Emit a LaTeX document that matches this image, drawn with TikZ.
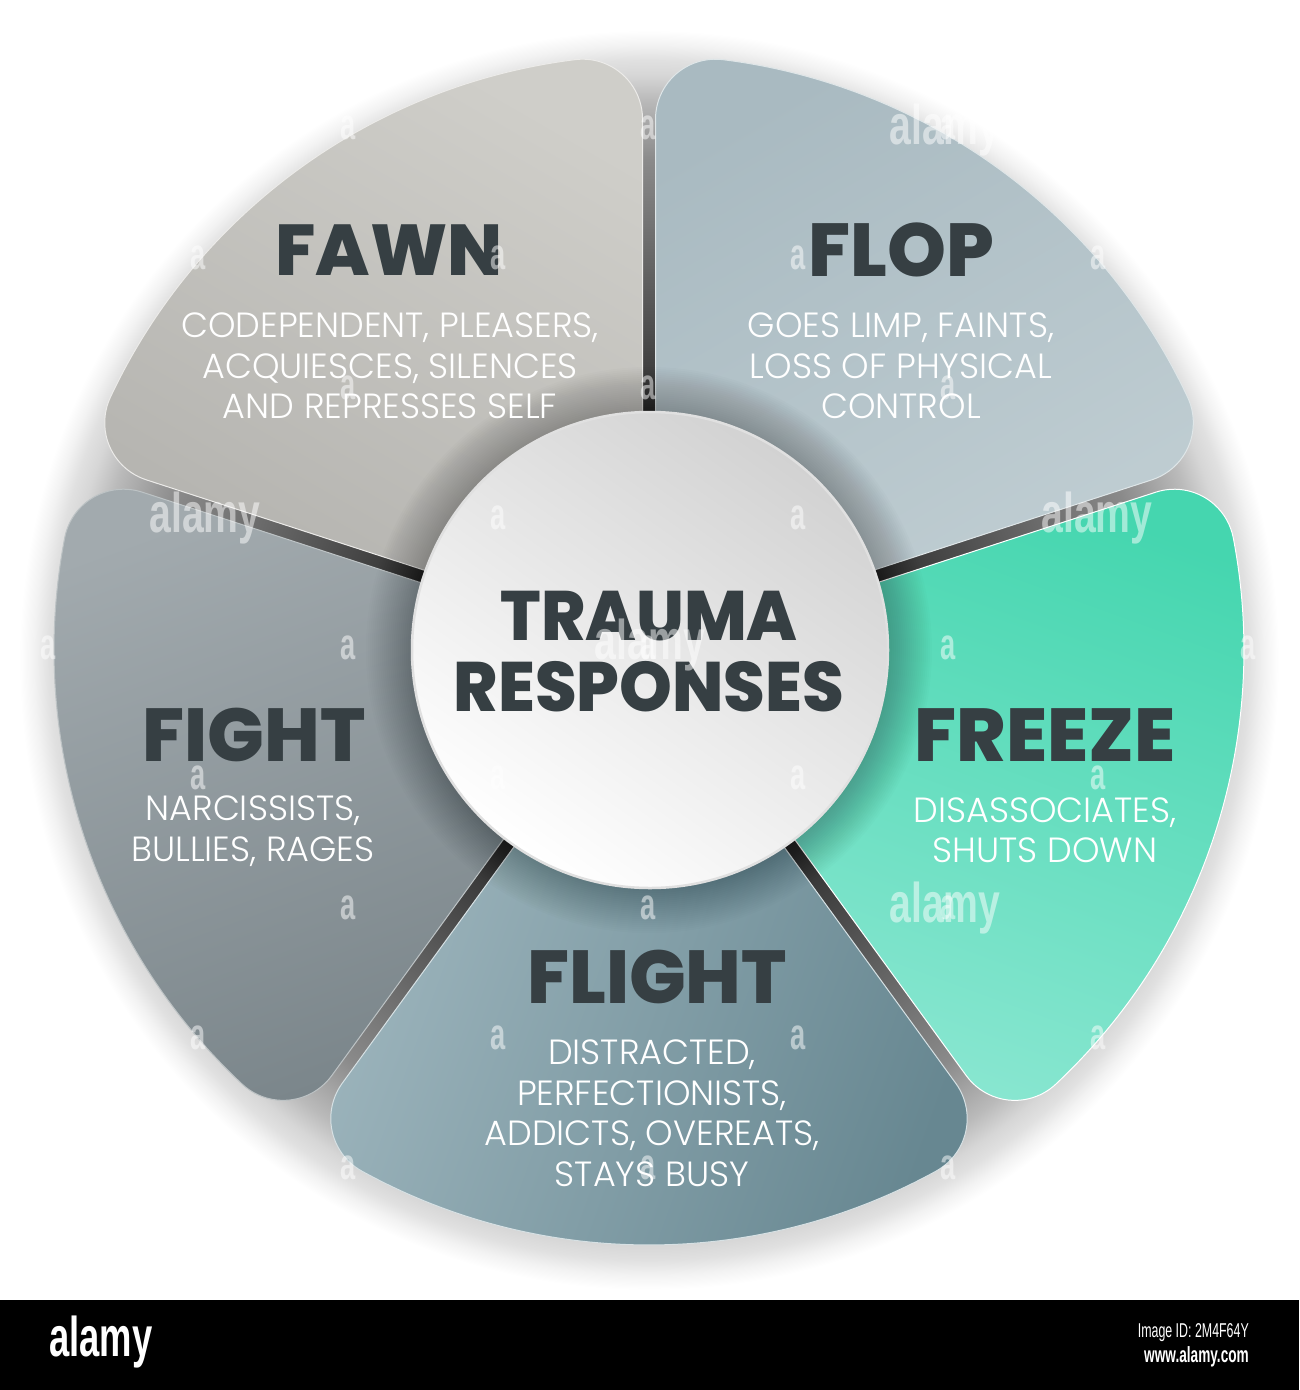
\documentclass[tikz,border=0pt]{standalone}
\usepackage{graphicx}
\usepackage{fontspec}
\setmainfont{Poppins}
\newfontfamily\headfont{Poppins ExtraBold}
\newfontfamily\titlefont{Poppins ExtraBold}[FakeStretch=.96]
\newfontfamily\bodyfont{Poppins Light}
\newfontfamily\markfont{Liberation Sans}[BoldFont={Liberation Sans Bold}]
\usetikzlibrary{positioning}
\definecolor{inkdark}{HTML}{363F43}
\definecolor{flopa}{HTML}{A9BAC1}
\definecolor{flopb}{HTML}{BFCDD2}
\definecolor{freezea}{HTML}{45D6AF}
\definecolor{freezem}{HTML}{55DBB8}
\definecolor{freezeb}{HTML}{88E6D0}
\definecolor{flighta}{HTML}{9BB3BB}
\definecolor{flightb}{HTML}{678791}
\definecolor{fighta}{HTML}{A2AAAE}
\definecolor{fightb}{HTML}{7B868B}
\definecolor{fawna}{HTML}{CFCEC9}
\definecolor{fawnb}{HTML}{B5B4B0}
\definecolor{huba}{HTML}{D2D2D2}
\pgfdeclareradialshading{backdisc}{\pgfpoint{0bp}{0bp}}{
    color(0bp)=(black!85);
    color(9.4bp)=(black!82);
    color(19.5bp)=(black!46);
    color(20.3bp)=(black!40);
    color(21.9bp)=(black!27);
    color(22.85bp)=(black!16);
    color(23.44bp)=(black!12);
    color(24.02bp)=(black!5);
    color(24.6bp)=(white);
    color(50bp)=(white)}
\newcommand{\petalpath}[1]{
    ([shift={(#1+54:6.5)}]#1-36:200) -- ([shift={(#1+54:6.5)}]#1-36:530.8)
    arc[start angle=#1-126,end angle=#1-28.86,radius=60]
    arc[start angle=#1-28.86,end angle=#1+28.86,radius=595]
    arc[start angle=#1+28.86,end angle=#1+126,radius=60]
    -- ([shift={(#1-54:6.5)}]#1+36:200) -- cycle}
\tikzset{
    heading/.style = {font=\headfont\fontsize{75}{80}\selectfont,text=inkdark,inner sep=0pt},
    bodytext/.style = {font=\bodyfont\fontsize{35}{40.5}\selectfont,text=white,align=center,inner sep=0pt},
    wmark/.style = {font=\markfont\bfseries\fontsize{44}{44}\selectfont,text=white,opacity=.5,inner sep=0pt},
    wbig/.style = {font=\markfont\bfseries\fontsize{56}{56}\selectfont,text=white,opacity=.5,inner sep=0pt},
    footer/.style = {font=\markfont,text=white,inner sep=0pt}}
\begin{document}
\begin{tikzpicture}[x=1pt,y=-1pt]
    \useasboundingbox (0,0) rectangle (1299,1390);
    \fill[white] (0,0) rectangle (1299,1390);
    \coordinate (hub) at (649,650);
    % backing disc, shows through the gaps
    \shade[shading=backdisc] (649,660) circle[radius=640];
    \begin{scope}[shift={(649,650)}]
        \path[draw=white!50!flopb,line width=1pt,top color=flopa,bottom color=flopb,shading angle=30] \petalpath{-54};
        \path[draw=white,line width=1pt,top color=freezea,middle color=freezem,bottom color=freezeb,shading angle=-20] \petalpath{18};
        \path[draw=white!60!flighta,line width=1pt,top color=flighta,bottom color=flightb,shading angle=70] \petalpath{90};
        \path[draw=white!50!fightb,line width=1pt,top color=fighta,bottom color=fightb,shading angle=20] \petalpath{162};
        \path[draw=white!60!fawna,line width=1pt,top color=fawna,bottom color=fawnb,shading angle=-30] \petalpath{234};
        % soft shadow of the hub
        \foreach \r in {241,243,...,283} \fill[black,opacity=.011] (0,0) circle[radius=\r];
    \end{scope}
    \path[draw=white!88!black,line width=2.5pt,top color=huba,bottom color=white,shading angle=-35] (650,650) circle[radius=238];
    % labels
    \node[font=\titlefont\fontsize{70}{71}\selectfont,text=inkdark,align=center,inner sep=0pt] (title) at (649,652) {TRAUMA\\RESPONSES};
    \node[heading,font=\headfont\fontsize{72}{80}\selectfont] (fawn) at (389,250) {FAWN};
    \node[bodytext] (fawntext) at (390,366) {CODEPENDENT, PLEASERS,\\ACQUIESCES, SILENCES\\AND REPRESSES SELF};
    \node[heading] (flop) at (901,250) {FLOP};
    \node[bodytext] (floptext) at (901,366) {GOES LIMP, FAINTS,\\LOSS OF PHYSICAL\\CONTROL};
    \node[heading] (freeze) at (1045,735) {FREEZE};
    \node[bodytext] (freezetext) at (1045,830) {DISASSOCIATES,\\SHUTS DOWN};
    \node[heading] (flight) at (657,977) {FLIGHT};
    \node[bodytext] (flighttext) at (652,1113) {DISTRACTED,\\PERFECTIONISTS,\\ADDICTS, OVEREATS,\\STAYS BUSY};
    \node[heading] (fight) at (254,735) {FIGHT};
    \node[bodytext] (fighttext) at (253,831) {NARCISSISTS,\\BULLIES, RAGES};
    % stock marks
    \foreach \x/\y [count=\i] in {348/128,648/128,948/128,198/258,498/258,798/258,1098/258,348/388,648/388,948/388,498/518,798/518,48/648,348/648,648/648,948/648,1248/648,198/778,498/778,798/778,1098/778,348/908,648/908,948/908,198/1038,498/1038,798/1038,1098/1038,348/1168,648/1168,948/1168}
        \node[wmark] (wm\i) at (\x,\y) {\scalebox{.62}[1]{a}};
    \foreach \x/\y [count=\i] in {945/130,205/518,1097/518,945/908,650/645}
        \node[wbig] (wb\i) at (\x,\y) {\scalebox{.7}[1]{alamy}};
    % bottom strip
    \fill[black] (0,1300) rectangle (1299,1390);
    \node[footer,font=\markfont\bfseries\fontsize{56}{56}\selectfont] (logo) at (101,1342) {\scalebox{.65}[1]{alamy}};
    \node[footer,anchor=east,font=\markfont\fontsize{20}{20}\selectfont] (imgid) at (1249,1333) {\scalebox{.62}[1]{Image ID: 2M4F64Y}};
    \node[footer,anchor=east,font=\markfont\bfseries\fontsize{22}{22}\selectfont] (site) at (1249,1357) {\scalebox{.62}[1]{www.alamy.com}};
\end{tikzpicture}
\end{document}
